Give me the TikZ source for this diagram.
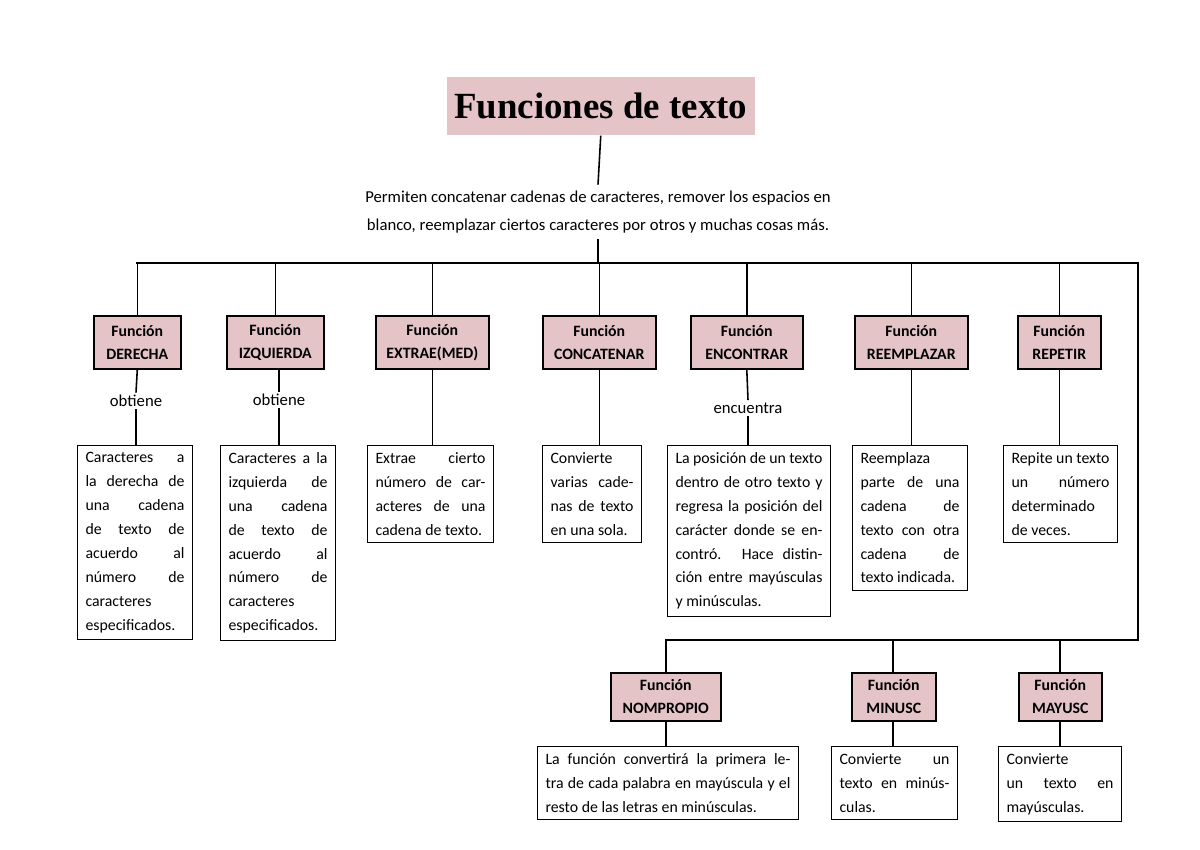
\documentclass[tikz,border=0pt]{standalone}
\usepackage{fontspec}
\setmainfont{Carlito}
\newfontfamily\titlefont{Liberation Serif}
\definecolor{pinkf}{RGB}{229,196,200}
\begin{document}
\begin{tikzpicture}[x=0.02cm,y=-0.02cm,line width=0.9pt,
  fn/.style={draw,fill=pinkf,font=\fontsize{9}{13}\selectfont\bfseries,align=center,anchor=north west,inner sep=0pt},
  tb/.style={draw,line width=0.6pt,font=\fontsize{9}{13.6}\selectfont,align=justify,anchor=north west,inner xsep=0.16cm,inner ysep=0.14cm},
  lb/.style={font=\fontsize{9.5}{12}\selectfont,inner sep=1pt}]
\useasboundingbox (0,0) rectangle (1200,849);
\node[fill=pinkf,anchor=north west,minimum width=6.16cm,minimum height=1.16cm,font=\titlefont\fontsize{21}{24}\selectfont\bfseries] (title) at (446,76) {Funciones de texto};
\node[font=\fontsize{9.5}{15.5}\selectfont,align=center] (desc) at (598,212) {Permiten concatenar cadenas de caracteres, remover los espacios en\\blanco, reemplazar ciertos caracteres por otros y muchas cosas más.};
\draw (title.south) -- (desc.north);
\coordinate (busm) at (598,263);
\draw (desc.south) -- (busm);
% top function boxes
\foreach \n/\x/\w/\t in {a/93/87/DERECHA,b/226/97/IZQUIERDA,c/375/113/EXTRAE(MED),d/542/113/CONCATENAR,e/690/112/ENCONTRAR,f/854/113/REEMPLAZAR,g/1017/83/REPETIR}{
  \node[fn,minimum width=\w*0.02cm,minimum height=1.06cm] (\n) at (\x,315) {Función\\\t};
}
\coordinate (bl) at (136,263); \coordinate (br) at (1138,263);
\coordinate (bb) at (1138,640); \coordinate (bbl) at (665,640);
\draw (bl) -- (br) -- (bb) -- (bbl);
\foreach \n in {a,b,c,d,e,f,g}{ \draw (\n.north) -- (\n.north |- bl); }
% text boxes
\node[tb,text width=1.98cm] (ta) at (77,445) {Caracteres a la derecha de una cadena de texto de acuerdo al número de caracteres especificados.};
\node[tb,text width=1.98cm] (tb2) at (220,445) {Caracteres a la izquierda de una cadena de texto de acuerdo al número de caracteres especificados.};
\node[tb,text width=2.2cm] (tc) at (367,445) {Extrae cierto número de caracteres de una cadena de texto.};
\node[tb,text width=1.66cm] (td) at (542,445) {Convierte varias cadenas de texto en una sola.};
\node[tb,text width=2.94cm] (te) at (667,445) {La posición de un texto dentro de otro texto y regresa la posición del carácter donde se encontró. Hace distinción entre mayúsculas y minúsculas.};
\node[tb,text width=1.98cm] (tf) at (852,445) {Reemplaza parte de una cadena de texto con otra cadena de texto indicada.};
\node[tb,text width=1.96cm] (tg) at (1003,445) {Repite un texto un número determinado de veces.};
\node[lb] (oa) at (136,401) {obtiene};
\node[lb] (ob) at (279,400) {obtiene};
\node[lb] (oe) at (748,408) {encuentra};
\draw (a.south) -- (oa.north); \draw (oa.south) -- (ta.north -| oa);
\draw (b.south -| ob) -- (ob.north); \draw (ob.south) -- (tb2.north -| ob);
\draw (e.south) -- (oe.north); \draw (oe.south) -- (te.north -| oe);
\draw (c.south) -- (tc.north -| c); \draw (d.south) -- (td.north -| d);
\draw (f.south) -- (tf.north -| f); \draw (g.south) -- (tg.north -| g);
% bottom
\node[fn,minimum width=2.2cm,minimum height=0.96cm] (h) at (610,672) {Función\\NOMPROPIO};
\node[fn,minimum width=1.68cm,minimum height=0.96cm] (i) at (851,672) {Función\\MINUSC};
\node[fn,minimum width=1.66cm,minimum height=0.96cm] (j) at (1018,672) {Función\\MAYUSC};
\draw (h.north) -- (h.north |- bb); \draw (i.north -| 893,0) -- (893,640); \draw (j.north -| 1060,0) -- (1060,640);
\node[tb,text width=4.9cm] (th) at (537,746) {La función convertirá la primera letra de cada palabra en mayúscula y el resto de las letras en minúsculas.};
\node[tb,text width=2.2cm] (ti) at (831,746) {Convierte un texto en minúsculas.};
\node[tb,text width=2.14cm] (tj) at (998,746) {Convierte un texto en mayúsculas.};
\draw (h.south) -- (th.north -| h);
\draw (i.south -| 893,0) -- (893,746);
\draw (j.south -| 1060,0) -- (1060,746);
\end{tikzpicture}
\end{document}
